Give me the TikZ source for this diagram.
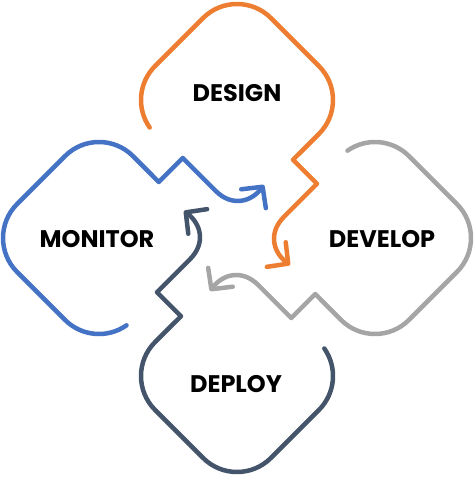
\documentclass[tikz,border=0pt]{standalone}
\usepackage{fontspec}
\setmainfont{Poppins}
\usetikzlibrary{arrows.meta}
\definecolor{cOrange}{HTML}{ED7D31}
\definecolor{cGrey}{HTML}{A5A5A5}
\definecolor{cNavy}{HTML}{44546A}
\definecolor{cBlue}{HTML}{4472C4}
\begin{document}
\begin{tikzpicture}[x=1pt,y=1pt,
  loopline/.style={line width=4.5pt, line cap=round, line join=round,
    -{Straight Barb[round,length=15pt,width=31pt,line width=4.5pt]}},
  phase/.style={font=\bfseries\fontsize{24}{28}\selectfont, text=black, inner sep=0pt},
  cycleloop/.pic={
    \draw[loopline] (-87.32,110.47) arc[start angle=215,end angle=135,radius=48]
      -- (-33.94,219.94) arc[start angle=135,end angle=45,radius=48]
      -- (81.94,171.94) arc[start angle=45,end angle=-45,radius=48]
      -- (56,78.2) -- (80,54.2) -- (47,21.2)
      .. controls (31,5.2) and (36,-14) .. (53,-27);
  }]
\useasboundingbox (-237,-239) rectangle (237,238);
\pic (loopdesign) [color=cOrange] {cycleloop};
\pic (loopdevelop) [color=cGrey, rotate=-90] {cycleloop};
\pic (loopdeploy) [color=cNavy, rotate=180] {cycleloop};
\pic (loopmonitor) [color=cBlue, rotate=90] {cycleloop};
\node[phase] (design) at (0,145) {DESIGN};
\node[phase] (develop) at (145,-1) {DEVELOP};
\node[phase] (deploy) at (-1,-146) {DEPLOY};
\node[phase] (monitor) at (-140,-1) {MONITOR};
\end{tikzpicture}
\end{document}
